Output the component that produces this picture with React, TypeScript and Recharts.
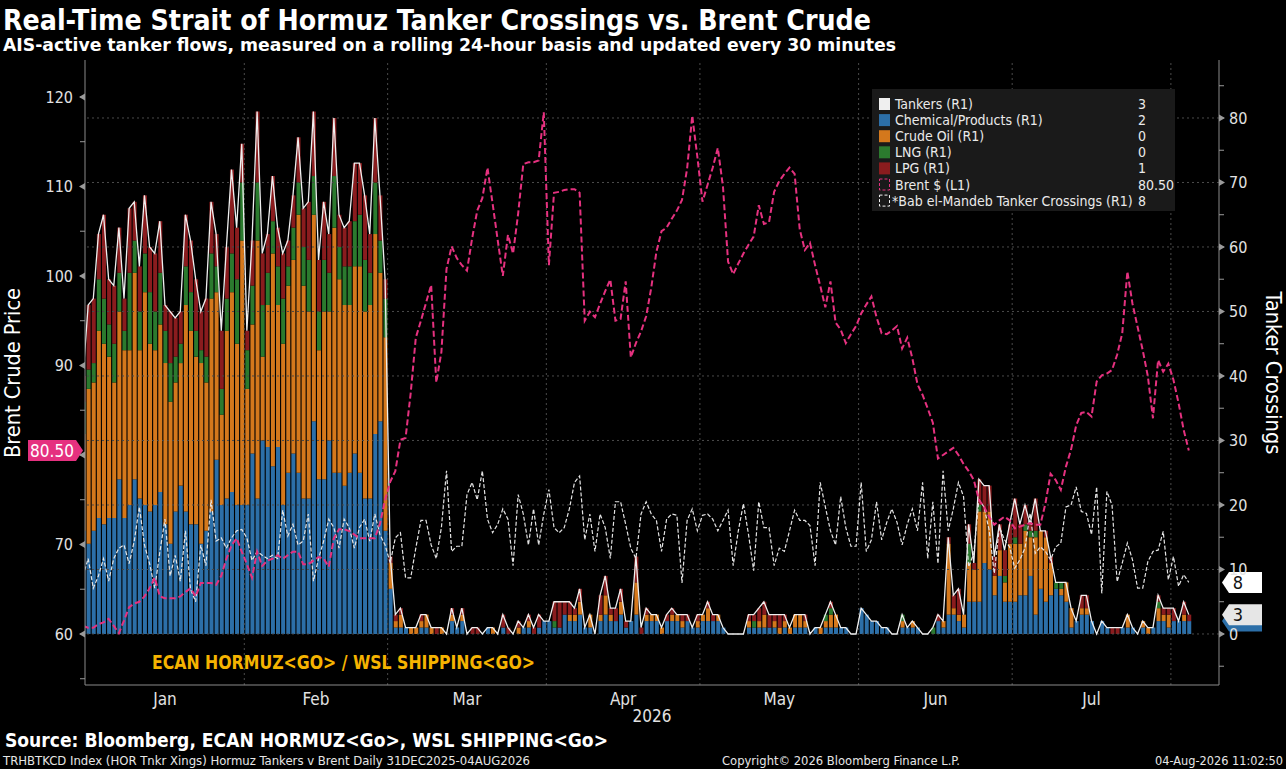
import { ComposedChart, Bar, Line, XAxis, YAxis, ReferenceLine } from "recharts";

const FONT = "'DejaVu Sans Condensed', 'DejaVu Sans', sans-serif";

// t = 0 is 31 Dec 2025, t = 216 is 04 Aug 2026
const MONTHS = ["Jan", "Feb", "Mar", "Apr", "May", "Jun", "Jul"];
const monthMid = [16, 45.5, 75, 105.5, 136, 166.5, 197];
const monthStart = [31.5, 59.5, 90.5, 120.5, 151.5, 181.5, 212.5];
const leftTicks = [55, 60, 65, 70, 75, 80, 85, 90, 95, 100, 105, 110, 115, 120];
const rightTicks = [-5, 0, 5, 10, 15, 20, 25, 30, 35, 40, 45, 50, 55, 60, 65, 70, 75, 80, 85];
const gridLevels = [0, 10, 20, 30, 40, 50, 60, 70, 80];

const chem = [
  16, 14, 16, 18, 17, 18, 18, 24, 18, 20,
  24, 21, 20, 19, 20, 22, 17, 14, 19, 23,
  19, 17, 17, 14, 16, 19, 27, 20, 21, 22,
  20, 20, 20, 28, 21, 30, 29, 26, 29, 20,
  25, 28, 25, 21, 21, 33, 24, 24, 30, 25,
  25, 23, 25, 28, 25, 21, 21, 31, 33, 16,
  7, 1, 1, 1, 0, 0, 1, 1, 0, 0,
  0, 0, 2, 1, 2, 0, 0, 0, 0, 1,
  0, 0, 1, 0, 0, 0, 1, 1, 0, 1,
  2, 2, 1, 1, 3, 2, 2, 3, 1, 1,
  0, 2, 3, 2, 2, 3, 1, 2, 3, 0,
  2, 2, 2, 0, 2, 2, 2, 1, 2, 1,
  1, 2, 2, 2, 2, 1, 0, 0, 0, 0,
  1, 1, 1, 1, 1, 1, 0, 1, 0, 1,
  1, 1, 0, 1, 0, 1, 1, 1, 1, 1,
  0, 0, 4, 3, 2, 2, 1, 1, 0, 0,
  1, 1, 1, 1, 0, 0, 0, 2, 1, 3,
  3, 2, 1, 5, 5, 5, 11, 10, 6, 9,
  5, 5, 5, 6, 6, 9, 3, 7, 5, 6,
  7, 6, 5, 1, 2, 3, 3, 2, 0, 2,
  1, 0, 0, 1, 1, 1, 0, 1, 0, 1,
  2, 2, 1, 2, 2, 2, 2,
];

const crude = [
  15, 24, 23, 29, 28, 25, 21, 26, 26, 24,
  32, 23, 33, 26, 24, 26, 25, 22, 20, 19,
  32, 30, 26, 28, 23, 33, 26, 14, 26, 31,
  25, 41, 18, 20, 40, 13, 22, 33, 22, 25,
  29, 30, 40, 33, 29, 32, 20, 26, 20, 38,
  30, 28, 26, 29, 32, 29, 30, 31, 23, 30,
  4, 1, 2, 0, 1, 1, 1, 2, 1, 0,
  1, 0, 1, 0, 1, 0, 0, 0, 0, 0,
  1, 0, 0, 0, 0, 1, 0, 1, 0, 0,
  0, 0, 0, 0, 0, 1, 1, 2, 0, 2,
  0, 1, 3, 1, 0, 2, 0, 0, 5, 0,
  1, 1, 1, 1, 0, 1, 1, 1, 0, 0,
  1, 1, 2, 0, 1, 0, 0, 0, 0, 0,
  1, 0, 1, 2, 0, 1, 1, 1, 1, 2,
  2, 1, 0, 0, 1, 1, 2, 2, 0, 0,
  0, 0, 0, 0, 0, 0, 0, 0, 0, 0,
  1, 0, 1, 0, 0, 0, 0, 0, 1, 11,
  1, 1, 2, 6, 5, 14, 8, 9, 3, 4,
  3, 9, 9, 8, 10, 6, 12, 9, 10, 5,
  0, 1, 3, 3, 0, 1, 1, 0, 0, 0,
  0, 0, 0, 0, 2, 0, 0, 1, 1, 0,
  2, 1, 2, 0, 0, 1, 0,
];

const lng = [
  5, 3, 3, 8, 7, 5, 6, 6, 3, 12,
  5, 6, 6, 8, 6, 8, 5, 6, 4, 3,
  6, 6, 4, 2, 4, 7, 4, 4, 5, 6,
  10, 9, 6, 6, 9, 8, 5, 5, 6, 7,
  3, 5, 5, 6, 8, 6, 6, 8, 6, 8,
  5, 6, 6, 7, 8, 8, 5, 8, 5, 6,
  0, 0, 0, 0, 0, 0, 0, 0, 0, 0,
  0, 0, 0, 0, 0, 0, 0, 0, 0, 0,
  0, 0, 0, 0, 0, 0, 0, 0, 0, 0,
  0, 0, 1, 0, 0, 0, 0, 0, 0, 0,
  0, 0, 0, 0, 0, 0, 0, 0, 0, 0,
  0, 0, 0, 0, 0, 0, 0, 0, 0, 0,
  0, 0, 0, 0, 0, 0, 0, 0, 0, 0,
  0, 1, 0, 0, 0, 0, 0, 0, 0, 0,
  0, 0, 0, 0, 0, 1, 1, 0, 0, 0,
  0, 0, 0, 0, 0, 0, 0, 0, 0, 0,
  1, 0, 0, 0, 0, 0, 1, 0, 0, 0,
  0, 0, 0, 3, 0, 1, 0, 0, 0, 0,
  1, 0, 1, 0, 1, 1, 1, 0, 0, 0,
  1, 1, 0, 0, 0, 0, 0, 0, 0, 0,
  0, 0, 0, 0, 0, 0, 0, 0, 0, 0,
  1, 0, 0, 0, 0, 0, 0,
];

const lpg = [
  4, 10, 10, 7, 13, 7, 9, 7, 5, 10,
  6, 7, 9, 7, 9, 8, 4, 8, 6, 5,
  8, 8, 8, 6, 9, 8, 5, 9, 8, 13,
  8, 6, 3, 7, 11, 8, 6, 7, 6, 7,
  4, 5, 7, 6, 9, 10, 8, 9, 6, 9,
  5, 6, 7, 9, 8, 10, 6, 10, 7, 3,
  1, 1, 1, 0, 0, 0, 1, 0, 0, 1,
  0, 0, 1, 0, 1, 0, 1, 1, 0, 0,
  0, 0, 2, 1, 0, 1, 0, 1, 1, 2,
  0, 0, 3, 4, 2, 2, 1, 2, 0, 0,
  0, 3, 3, 1, 2, 2, 1, 0, 4, 1,
  1, 0, 0, 0, 1, 1, 0, 1, 1, 0,
  1, 0, 1, 1, 0, 0, 0, 0, 0, 0,
  1, 1, 2, 2, 2, 1, 2, 1, 0, 0,
  0, 1, 0, 0, 0, 0, 1, 0, 0, 0,
  0, 0, 0, 0, 0, 0, 0, 0, 0, 0,
  0, 0, 0, 0, 0, 0, 0, 1, 0, 1,
  2, 4, 0, 3, 1, 4, 4, 4, 3, 4,
  4, 3, 6, 3, 3, 1, 5, 0, 1, 1,
  0, 0, 0, 0, 0, 2, 2, 0, 0, 0,
  0, 1, 1, 0, 0, 0, 0, 0, 0, 0,
  1, 1, 1, 2, 0, 2, 1,
];

const tankers = [
  40, 51, 52, 62, 65, 55, 54, 63, 52, 66,
  67, 57, 68, 60, 59, 64, 51, 50, 49, 50,
  65, 61, 55, 50, 52, 67, 62, 47, 60, 72,
  63, 76, 47, 61, 81, 59, 62, 71, 63, 59,
  61, 68, 77, 66, 67, 81, 58, 67, 62, 80,
  65, 63, 64, 73, 73, 68, 62, 80, 68, 55,
  12, 3, 4, 1, 1, 1, 3, 3, 1, 1,
  1, 0, 4, 1, 4, 0, 1, 1, 0, 1,
  1, 0, 3, 1, 0, 2, 1, 3, 1, 3,
  2, 2, 5, 5, 5, 5, 4, 7, 1, 3,
  0, 6, 9, 4, 4, 7, 2, 2, 12, 1,
  4, 3, 3, 1, 3, 4, 3, 3, 3, 1,
  3, 3, 5, 3, 3, 1, 0, 0, 0, 0,
  3, 3, 4, 5, 3, 3, 3, 3, 1, 3,
  3, 3, 0, 1, 1, 3, 5, 3, 1, 1,
  0, 0, 4, 3, 2, 2, 1, 1, 0, 0,
  3, 1, 2, 1, 0, 0, 1, 3, 2, 15,
  6, 7, 3, 17, 11, 24, 23, 23, 12, 17,
  13, 17, 21, 17, 20, 17, 21, 16, 16, 12,
  8, 8, 8, 4, 2, 6, 6, 2, 0, 2,
  1, 1, 1, 1, 3, 1, 0, 2, 1, 1,
  6, 4, 4, 4, 2, 5, 3,
];

const brent = [
  60.9, 60.7, 60.7, 61.1, 61.3, 61.7, 60.9, 60.1, 61.5, 63.0,
  63.4, 63.6, 64.2, 65.1, 66.3, 64.2, 64.0, 64.0, 64.0, 64.2,
  64.7, 65.1, 64.2, 65.7, 65.7, 65.7, 65.5, 66.5, 68.4, 69.9,
  70.7, 69.2, 67.8, 66.3, 69.2, 67.6, 68.2, 68.4, 68.8, 68.4,
  68.8, 69.2, 69.2, 67.8, 67.8, 68.2, 68.6, 68.4, 67.5, 70.7,
  71.7, 71.7, 71.5, 71.1, 70.7, 70.7, 70.7, 70.7, 72.3, 75.0,
  77.0, 78.2, 81.7, 81.9, 86.9, 93.1, 95.0, 97.0, 99.0, 88.1,
  91.5, 100.8, 103.3, 102.0, 101.2, 100.6, 104.2, 107.3, 108.7, 112.1,
  108.1, 104.0, 100.0, 104.6, 102.5, 107.0, 112.5, 112.7, 112.7, 112.9,
  118.3, 101.2, 109.3, 109.4, 109.6, 109.7, 109.7, 109.3, 95.0, 96.0,
  95.4, 96.9, 98.3, 99.6, 95.0, 95.2, 99.4, 90.9, 92.5, 93.8,
  95.5, 98.7, 102.7, 105.0, 105.4, 106.4, 107.3, 108.5, 112.0, 117.9,
  113.3, 108.3, 110.2, 112.1, 114.3, 110.0, 101.6, 100.2, 101.4, 102.5,
  103.5, 104.4, 107.9, 105.8, 106.0, 109.4, 110.6, 111.4, 112.1, 111.4,
  105.2, 102.9, 103.7, 101.2, 98.9, 96.5, 99.4, 94.8, 94.0, 92.5,
  93.5, 94.4, 95.8, 96.8, 97.7, 95.4, 93.6, 93.5, 93.9, 94.4,
  91.9, 93.1, 90.8, 87.9, 86.7, 85.2, 83.6, 79.6, 80.0, 80.4,
  80.8, 80.0, 79.0, 78.2, 77.2, 75.0, 74.2, 73.1, 72.2, 72.7,
  73.1, 72.7, 71.8, 72.0, 72.2, 72.4, 72.2, 72.2, 74.6, 77.9,
  77.2, 76.1, 78.7, 80.6, 83.3, 84.7, 84.8, 84.3, 88.2, 88.9,
  89.1, 89.5, 91.2, 93.6, 100.5, 96.9, 94.3, 91.7, 88.8, 84.1,
  90.6, 89.3, 90.2, 88.4, 85.8, 82.8, 80.5,
];

const bab = [
  9.0, 11.7, 7.1, 9.0, 11.7, 8.2, 11.7, 13.3, 13.8, 10.9,
  14.4, 19.7, 13.8, 10.9, 7.1, 12.7, 17.8, 9.0, 12.2, 8.2,
  16.0, 6.9, 5.0, 13.8, 10.6, 20.8, 14.4, 14.9, 13.3, 14.9,
  16.0, 16.2, 14.9, 11.4, 12.8, 12.2, 11.7, 12.2, 11.7, 19.2,
  15.2, 17.0, 13.8, 14.4, 18.6, 8.2, 11.7, 14.4, 17.8, 16.5,
  13.3, 17.8, 16.5, 13.3, 16.5, 17.8, 14.4, 18.6, 15.4, 13.8,
  11.0, 14.9, 15.7, 8.7, 8.7, 13.3, 17.6, 17.6, 13.8, 11.7,
  16.5, 25.3, 12.8, 13.6, 13.6, 21.6, 23.5, 20.8, 25.3, 17.8,
  15.7, 17.0, 19.4, 17.8, 10.6, 21.6, 18.6, 13.8, 19.4, 13.8,
  18.6, 22.4, 16.5, 15.7, 16.5, 19.4, 23.5, 24.5, 14.6, 18.6,
  12.8, 18.6, 16.5, 11.7, 20.5, 20.5, 17.0, 13.3, 11.7, 18.6,
  20.5, 18.6, 17.6, 12.8, 17.8, 18.6, 18.4, 7.9, 17.6, 19.4,
  16.0, 18.4, 18.6, 17.8, 16.0, 17.6, 19.2, 10.6, 16.0, 20.2,
  15.4, 9.8, 20.5, 16.5, 16.5, 10.6, 13.3, 12.8, 16.0, 19.2,
  17.6, 17.6, 16.8, 10.6, 23.5, 19.7, 16.0, 13.8, 21.3, 16.5,
  13.6, 13.6, 23.5, 12.8, 14.6, 20.5, 14.6, 17.3, 19.4, 17.3,
  13.8, 17.0, 19.4, 16.0, 23.5, 11.7, 20.5, 10.9, 25.3, 16.0,
  19.4, 23.5, 21.3, 10.4, 12.5, 20.8, 19.7, 16.1, 9.4, 16.6,
  14.6, 13.5, 10.2, 11.5, 13.3, 18.7, 12.5, 13.5, 12.8, 11.5,
  13.5, 14.1, 19.7, 20.0, 22.8, 19.0, 18.7, 15.4, 22.8, 6.3,
  22.1, 20.0, 8.1, 11.0, 14.1, 11.5, 7.1, 7.1, 11.2, 12.8,
  13.0, 15.9, 8.4, 12.0, 7.4, 9.2, 8.0,
];

const C_CHEM = "#2c6fa8";
const C_CRUDE = "#d4781c";
const C_LNG = "#2b7a2e";
const C_LPG = "#8a1c1e";
const C_TANK = "#efefef";
const C_BRENT = "#e5317f";
const C_BAB = "#e4e4e4";

const rows = tankers.map((v, t) => ({
  t,
  tankers: v,
  chem: chem[t],
  crude: crude[t],
  lng: lng[t],
  lpg: lpg[t],
  brent: brent[t],
  bab: bab[t],
}));

const last = tankers.length - 1;

const legendItems = [
  { name: "Tankers (R1)", color: C_TANK, value: String(tankers[last]), dashed: false },
  { name: "Chemical/Products (R1)", color: C_CHEM, value: String(chem[last]), dashed: false },
  { name: "Crude Oil  (R1)", color: C_CRUDE, value: String(crude[last]), dashed: false },
  { name: "LNG  (R1)", color: C_LNG, value: String(lng[last]), dashed: false },
  { name: "LPG  (R1)", color: C_LPG, value: String(lpg[last]), dashed: false },
  { name: "Brent $ (L1)", color: C_BRENT, value: brent[last].toFixed(2), dashed: true },
  { name: "*Bab el-Mandeb Tanker Crossings (R1)", color: "#f2f2f2", value: String(Math.round(bab[last])), dashed: true },
];

// left axis tick: label plus a small triangle pointing at it
function LeftTick(props: any) {
  const { x, y, payload } = props;
  const v = payload.value;
  if (v % 10 !== 0) return null;
  return (
    <g>
      <polygon points={`${x + 6},${y} ${x + 12},${y - 3.5} ${x + 12},${y + 3.5}`} fill="#9a9a9a" />
      {v !== Math.round(brent[last] / 10) * 10 ? (
        <text x={x} y={y} dy="0.35em" textAnchor="end" fill="#e2e2e2" fontSize={16} fontFamily={FONT}>
          {v}
        </text>
      ) : null}
    </g>
  );
}

function RightTick(props: any) {
  const { x, y, payload } = props;
  const v = payload.value;
  if (v % 10 !== 0 || v < 0 || v > 80) return null;
  return (
    <g>
      <polygon points={`${x - 4},${y} ${x - 10},${y - 3.5} ${x - 10},${y + 3.5}`} fill="#9a9a9a" />
      <text x={x} y={y} dy="0.35em" textAnchor="start" fill="#e2e2e2" fontSize={16} fontFamily={FONT}>
        {v}
      </text>
    </g>
  );
}

function LeftBadge(props: any) {
  const { viewBox, text } = props;
  if (!viewBox) return null;
  const y = viewBox.y;
  const tip = viewBox.x - 2;
  const left = tip - 55;
  return (
    <g>
      <path d={`M${left} ${y - 10.5} H${tip - 7} L${tip} ${y} L${tip - 7} ${y + 10.5} H${left} Z`} fill={C_BRENT} />
      <text x={left + 24} y={y + 6} fill="#fff" fontSize={17} textAnchor="middle" fontFamily={FONT}>
        {text}
      </text>
    </g>
  );
}

function RightBadge(props: any) {
  const { viewBox, text, fill, color } = props;
  if (!viewBox) return null;
  const x = viewBox.x + viewBox.width + 3;
  const y = viewBox.y;
  return (
    <g>
      <path d={`M${x} ${y} L${x + 7} ${y - 10.5} H${x + 40} V${y + 10.5} H${x + 7} Z`} fill={fill} />
      {text ? (
        <text x={x + 16} y={y + 6.5} fill={color} fontSize={18} textAnchor="middle" fontFamily={FONT}>
          {text}
        </text>
      ) : null}
    </g>
  );
}

export default function App() {
  return (
    <div style={{ position: "fixed", left: 0, top: 0, width: 1286, height: 769, background: "#000", overflow: "hidden" }}>
      <div style={{ position: "absolute", left: 0, top: 0 }}>
        <ComposedChart width={1286} height={769} data={rows} margin={{ top: 60, right: 22, bottom: 54, left: 25 }}>
          <XAxis
            dataKey="t"
            type="number"
            domain={[0.38, 221.9]}
            allowDataOverflow
            ticks={monthMid}
            tickFormatter={(v) => MONTHS[monthMid.indexOf(v)] ?? ""}
            tickLine={false}
            axisLine={{ stroke: "#8a8a8a" }}
            tick={{ fill: "#e2e2e2", fontSize: 17, fontFamily: FONT }}
            height={30}
          />
          <YAxis
            yAxisId="left"
            orientation="left"
            domain={[54.3, 124.13]}
            allowDataOverflow
            ticks={leftTicks}
            interval={0}
            tick={<LeftTick />}
            tickSize={5}
            tickMargin={7}
            tickLine={{ stroke: "#9a9a9a" }}
            axisLine={{ stroke: "#8a8a8a" }}
            width={60}
          />
          <YAxis
            yAxisId="right"
            orientation="right"
            domain={[-7.91, 88.99]}
            allowDataOverflow
            ticks={rightTicks}
            interval={0}
            tick={<RightTick />}
            tickSize={5}
            tickMargin={5}
            tickLine={{ stroke: "#9a9a9a" }}
            axisLine={{ stroke: "#8a8a8a" }}
            width={45}
          />

          {gridLevels.map((g) => (
            <ReferenceLine key={"h" + g} yAxisId="right" y={g} stroke="#4a4a4a" strokeDasharray="2 3" />
          ))}
          {monthStart.map((m) => (
            <ReferenceLine key={"v" + m} yAxisId="right" x={m} stroke="#4a4a4a" strokeDasharray="2 3" />
          ))}

          <Bar yAxisId="right" dataKey="chem" stackId="s" fill={C_CHEM} barSize={4} isAnimationActive={false} />
          <Bar yAxisId="right" dataKey="crude" stackId="s" fill={C_CRUDE} barSize={4} isAnimationActive={false} />
          <Bar yAxisId="right" dataKey="lng" stackId="s" fill={C_LNG} barSize={4} isAnimationActive={false} />
          <Bar yAxisId="right" dataKey="lpg" stackId="s" fill={C_LPG} barSize={4} isAnimationActive={false} />

          <Line yAxisId="right" type="linear" dataKey="tankers" stroke={C_TANK} strokeWidth={1.3} dot={false} isAnimationActive={false} />
          <Line yAxisId="right" type="linear" dataKey="bab" stroke={C_BAB} strokeWidth={1.2} strokeDasharray="4 2" dot={false} isAnimationActive={false} />
          <Line yAxisId="left" type="linear" dataKey="brent" stroke={C_BRENT} strokeWidth={2} strokeDasharray="6 3" dot={false} isAnimationActive={false} />

          <ReferenceLine yAxisId="left" y={brent[last]} stroke="none" label={<LeftBadge text={brent[last].toFixed(2)} />} />
          <ReferenceLine yAxisId="right" y={chem[last]} stroke="none" label={<RightBadge fill={C_CHEM} />} />
          <ReferenceLine yAxisId="right" y={tankers[last]} stroke="none" label={<RightBadge fill="#e6e6e6" color="#111" text={String(tankers[last])} />} />
          <ReferenceLine yAxisId="right" y={bab[last]} stroke="none" label={<RightBadge fill="#ffffff" color="#111" text={String(Math.round(bab[last]))} />} />
        </ComposedChart>
      </div>

      <svg width={1286} height={769} style={{ position: "absolute", left: 0, top: 0, pointerEvents: "none" }} fontFamily={FONT}>
        <text x={3} y={30} fill="#fff" fontSize={28} fontWeight="bold" textLength={868} lengthAdjust="spacingAndGlyphs">
          Real-Time Strait of Hormuz Tanker Crossings vs. Brent Crude
        </text>
        <text x={3} y={51} fill="#fff" fontSize={17} fontWeight="bold" textLength={893} lengthAdjust="spacingAndGlyphs">
          AIS-active tanker flows, measured on a rolling 24-hour basis and updated every 30 minutes
        </text>

        <text transform="translate(13 373) rotate(-90)" fill="#fff" fontSize={21} textAnchor="middle" dy="0.35em" textLength={170} lengthAdjust="spacingAndGlyphs">
          Brent Crude Price
        </text>
        <text transform="translate(1273 373) rotate(90)" fill="#fff" fontSize={21} textAnchor="middle" dy="0.35em" textLength={163} lengthAdjust="spacingAndGlyphs">
          Tanker Crossings
        </text>

        <text x={152} y={669} fill="#f5b300" fontSize={19} fontWeight="bold" textLength={383} lengthAdjust="spacingAndGlyphs">
          {"ECAN HORMUZ<GO> / WSL SHIPPING<GO>"}
        </text>

        <text x={652} y={722} fill="#e2e2e2" fontSize={17} textAnchor="middle">
          2026
        </text>

        <text x={5} y={747} fill="#fff" fontSize={19} fontWeight="bold" textLength={603} lengthAdjust="spacingAndGlyphs">
          {"Source: Bloomberg, ECAN HORMUZ<Go>, WSL SHIPPING<Go>"}
        </text>
        <text x={3} y={765} fill="#e6e6e6" fontSize={12.5} textLength={527} lengthAdjust="spacingAndGlyphs">
          TRHBTKCD Index (HOR Tnkr Xings) Hormuz Tankers v Brent Daily 31DEC2025-04AUG2026
        </text>
        <text x={722} y={765} fill="#e6e6e6" fontSize={12.5} textLength={238} lengthAdjust="spacingAndGlyphs">
          Copyright© 2026 Bloomberg Finance L.P.
        </text>
        <text x={1155} y={765} fill="#e6e6e6" fontSize={12.5} textLength={128} lengthAdjust="spacingAndGlyphs">
          04-Aug-2026 11:02:50
        </text>

        <rect x={872} y={89} width={303} height={122} fill="#1a1a1a" />
        {legendItems.map((it, i) => {
          const cy = 104 + i * 16.1;
          return (
            <g key={it.name}>
              {it.dashed ? (
                <rect x={879.5} y={cy - 5.5} width={10} height={11} fill="none" stroke={it.color} strokeWidth={1} strokeDasharray="3 2" />
              ) : (
                <rect x={879} y={cy - 6} width={11} height={12} fill={it.color} />
              )}
              <text x={i === 6 ? 892 : 895} y={cy + 5} fill="#eaeaea" fontSize={14}>
                {it.name}
              </text>
              <text x={1138} y={cy + 5} fill="#eaeaea" fontSize={14}>
                {it.value}
              </text>
            </g>
          );
        })}
      </svg>
    </div>
  );
}
